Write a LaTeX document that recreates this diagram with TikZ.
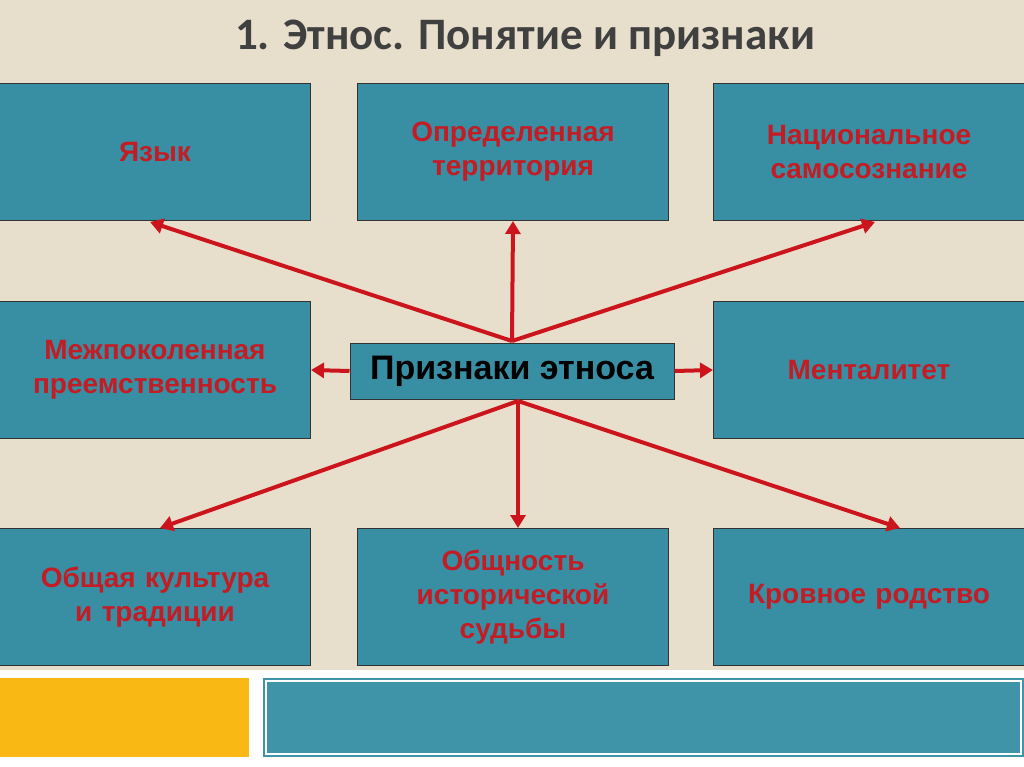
\documentclass[tikz,border=0pt]{standalone}
\usepackage{fontspec}
\setmainfont{Liberation Sans}
\newfontfamily\titlefont{Carlito}
\usetikzlibrary{arrows.meta, positioning}
\definecolor{bgbeige}{RGB}{232,222,204}
\definecolor{boxteal}{RGB}{56,142,162}
\definecolor{txtred}{RGB}{196,28,36}
\definecolor{arrred}{RGB}{204,20,28}
\definecolor{barblue}{RGB}{64,148,168}
\definecolor{baryellow}{RGB}{250,184,20}
\tikzset{sign/.style={rectangle, draw=black!80, line width=1pt, fill=boxteal, minimum width=311pt, minimum height=137pt, text width=300pt, align=center, text=txtred, font=\bfseries\fontsize{28}{34}\selectfont},
  link/.style={draw=arrred, line width=4pt, -{Triangle[length=13pt,width=15pt]}}}
\begin{document}
\begin{tikzpicture}[x=1pt, y=-1pt]
\useasboundingbox (0,0) rectangle (1024,767);
\fill[bgbeige] (0,0) rectangle (1024,767);
\fill[white] (0,670) rectangle (1024,767);
\node (Title) [font=\titlefont\bfseries\fontsize{45}{50}\selectfont, text=black!75] at (525,38) {1. Этнос. Понятие и признаки};
% top row
\node (Language) [sign] at (155,152) {Язык};
\node (Territory) [sign] at (513,152) {Определенная\\территория};
\node (Identity) [sign] at (869,152) {Национальное\\самосознание};
% middle row
\node (Continuity) [sign] at (155,370) {Межпоколенная\\преемственность};
\node (Mentality) [sign] at (869,370) {Менталитет};
\node (Signs) [rectangle, draw=black!80, line width=1pt, fill=boxteal, minimum width=324pt, minimum height=56pt, font=\bfseries\fontsize{34}{38}\selectfont] at (512,371) {Признаки этноса};
% bottom row
\node (Culture) [sign] at (155,597) {Общая культура\\и традиции};
\node (History) [sign] at (513,597) {Общность\\исторической\\судьбы};
\node (Kinship) [sign] at (869,597) {Кровное родство};
% bars
\fill[baryellow] (0,678) rectangle (249,757);
\fill[barblue] (263,678) rectangle (1024,757);
\draw[white, line width=1.5pt] (266,681) rectangle (1021,754);
% arrows
\coordinate (Up) at (512,341);
\coordinate (Down) at (518,401);
\draw [link] (Up) -- (150,222);
\draw [link] (Up) -- (Territory.south);
\draw [link] (Up) -- (875,222);
\draw [link] (Signs.west) -- (Continuity.east);
\draw [link] (Signs.east) -- (Mentality.west);
\draw [link] (Down) -- (160,528);
\draw [link] (Down) -- (518,528);
\draw [link] (Down) -- (900,528);
\end{tikzpicture}
\end{document}
